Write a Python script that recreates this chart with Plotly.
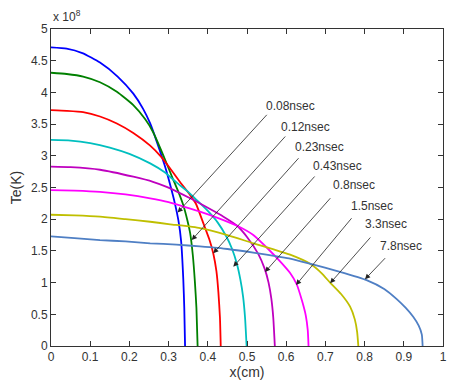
import plotly.graph_objects as go

# Data (temperature in units of 1e8 K, x in cm)
labels = ["0.08nsec", "0.12nsec", "0.23nsec", "0.43nsec", "0.8nsec", "1.5nsec", "3.3nsec", "7.8nsec"]

x_008 = [0, 0.04, 0.08, 0.125, 0.17, 0.21, 0.235, 0.253, 0.27, 0.29, 0.305, 0.316, 0.325, 0.332, 0.3375, 0.340, 0.342]
t_008 = [4.71, 4.69, 4.62, 4.47, 4.25, 3.98, 3.74, 3.51, 3.22, 2.85, 2.52, 2.25, 1.98, 1.65, 1.05, 0.60, 0.0]

x_012 = [0, 0.04, 0.082, 0.125, 0.168, 0.21, 0.24, 0.26, 0.287, 0.31, 0.325, 0.3375, 0.348, 0.355, 0.362, 0.367, 0.371, 0.374]
t_012 = [4.31, 4.29, 4.25, 4.16, 4.01, 3.80, 3.58, 3.38, 3.00, 2.65, 2.43, 2.22, 1.98, 1.78, 1.42, 1.02, 0.60, 0.0]

x_023 = [0, 0.04, 0.082, 0.125, 0.168, 0.21, 0.253, 0.28, 0.304, 0.33, 0.355, 0.37, 0.389, 0.404, 0.414, 0.422, 0.427, 0.431, 0.433]
t_023 = [3.72, 3.71, 3.69, 3.62, 3.51, 3.36, 3.16, 2.99, 2.80, 2.58, 2.38, 2.24, 1.93, 1.68, 1.46, 1.18, 0.85, 0.45, 0.0]

x_043 = [0, 0.05, 0.1, 0.15, 0.2, 0.253, 0.29, 0.32, 0.35, 0.372, 0.4, 0.425, 0.448, 0.462, 0.474, 0.483, 0.49, 0.495, 0.499]
t_043 = [3.25, 3.24, 3.20, 3.13, 3.03, 2.88, 2.74, 2.58, 2.43, 2.30, 2.13, 1.95, 1.72, 1.53, 1.30, 1.05, 0.78, 0.45, 0.0]

x_08 = [0, 0.05, 0.125, 0.21, 0.26, 0.295, 0.355, 0.4, 0.44, 0.474, 0.5, 0.529, 0.545, 0.555, 0.562, 0.567, 0.571]
t_08 = [2.83, 2.82, 2.78, 2.67, 2.59, 2.51, 2.33, 2.18, 2.04, 1.90, 1.72, 1.45, 1.22, 1.00, 0.75, 0.45, 0.0]

x_15 = [0, 0.06, 0.125, 0.19, 0.253, 0.3, 0.338, 0.38, 0.43, 0.48, 0.516, 0.554, 0.585, 0.61, 0.627, 0.64, 0.65, 0.655, 0.657]
t_15 = [2.46, 2.45, 2.43, 2.39, 2.33, 2.27, 2.20, 2.12, 2.01, 1.88, 1.75, 1.53, 1.33, 1.15, 0.97, 0.72, 0.48, 0.25, 0.0]

x_33 = [0, 0.06, 0.125, 0.19, 0.253, 0.304, 0.38, 0.45, 0.516, 0.57, 0.61, 0.66, 0.69, 0.712, 0.74, 0.763, 0.775, 0.781, 0.784]
t_33 = [2.07, 2.06, 2.04, 2.00, 1.96, 1.92, 1.86, 1.75, 1.62, 1.52, 1.44, 1.30, 1.15, 1.00, 0.82, 0.62, 0.42, 0.22, 0.0]

x_78 = [0, 0.06, 0.125, 0.19, 0.253, 0.32, 0.38, 0.45, 0.52, 0.58, 0.61, 0.66, 0.737, 0.805, 0.85, 0.882, 0.905, 0.924, 0.938, 0.946, 0.948]
t_78 = [1.73, 1.70, 1.67, 1.65, 1.62, 1.60, 1.57, 1.53, 1.47, 1.41, 1.38, 1.30, 1.17, 1.04, 0.90, 0.74, 0.60, 0.46, 0.32, 0.18, 0.0]

# Annotation geometry (data coords): arrow tip, arrow tail, label centre
tip_x = [0.323, 0.359, 0.414, 0.465, 0.546, 0.625, 0.712, 0.801]
tip_y = [2.106, 1.672, 1.462, 1.251, 1.167, 0.962, 0.989, 1.052]
tail_x = [0.554, 0.601, 0.635, 0.676, 0.716, 0.770, 0.818, 0.856]
tail_y = [3.670, 3.328, 2.986, 2.697, 2.355, 2.039, 1.735, 1.409]
lab_x = [0.612, 0.648, 0.686, 0.730, 0.773, 0.819, 0.855, 0.893]
lab_y = [3.785, 3.459, 3.139, 2.839, 2.539, 2.208, 1.924, 1.577]

series_x = [x_008, x_012, x_023, x_043, x_08, x_15, x_33, x_78]
series_t = [t_008, t_012, t_023, t_043, t_08, t_15, t_33, t_78]
colors = ["#0000ff", "#008000", "#ff0000", "#00bfbf", "#bf00bf", "#ff00ff", "#bfbf00", "#4f7fc4"]

FONT = "Liberation Sans, Arial, sans-serif"
fig = go.Figure()
for xs, ts, c, lab in zip(series_x, series_t, colors, labels):
    fig.add_trace(go.Scatter(x=xs, y=ts, mode="lines", name=lab,
                             line=dict(color=c, width=1.8, shape="spline", smoothing=0.5)))

annotations = []
for i in range(len(labels)):
    annotations.append(dict(x=tip_x[i], y=tip_y[i], ax=tail_x[i], ay=tail_y[i],
                            xref="x", yref="y", axref="x", ayref="y", text="",
                            showarrow=True, arrowhead=2, arrowsize=1.3, arrowwidth=0.8,
                            arrowcolor="#222222"))
    annotations.append(dict(x=lab_x[i], y=lab_y[i], xref="x", yref="y", text=labels[i],
                            showarrow=False, font=dict(size=12, color="#333333", family=FONT)))
annotations.append(dict(x=0, y=1, xref="paper", yref="paper", xanchor="left", yanchor="bottom",
                        yshift=3, text="x 10<sup>8</sup>", showarrow=False,
                        font=dict(size=12, color="#333333", family=FONT)))

axis_common = dict(showline=True, linecolor="#333333", linewidth=1, mirror="ticks",
                   ticks="inside", ticklen=5, tickcolor="#333333", showgrid=False,
                   zeroline=False, automargin=False,
                   tickfont=dict(size=12, color="#333333", family=FONT))

# page body has an 8px offset, so margins are compensated
fig.update_layout(
    width=474, height=388,
    margin=dict(l=43, r=39, t=21, b=50),
    paper_bgcolor="white", plot_bgcolor="white",
    showlegend=False,
    font=dict(family=FONT, size=12, color="#333333"),
    xaxis=dict(range=[0, 1], dtick=0.1, title=dict(text="x(cm)", standoff=3), **axis_common),
    yaxis=dict(range=[0, 5], dtick=0.5, title=dict(text="Te(K)", standoff=6), **axis_common),
    annotations=annotations,
)

fig.write_html("out.html")
